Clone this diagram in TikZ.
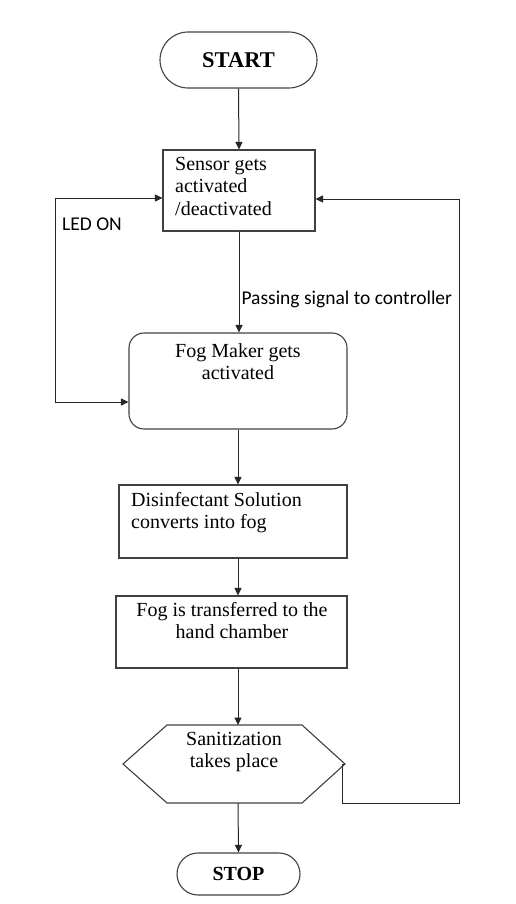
\documentclass[tikz,border=0pt]{standalone}
\usepackage{fontspec}
\setmainfont{Liberation Serif}
\newfontfamily\sansf{Carlito}
\usetikzlibrary{arrows.meta}
\tikzset{
  x=1pt, y=-1pt,
  line/.style={line width=1pt, draw=black!85},
  arr/.style={line, -{Triangle[length=7.5pt,width=7pt]}},
  boxline/.style={draw=black!75, line width=1.1pt},
  procbox/.style={boxline, rectangle, inner sep=0pt},
  term/.style={boxline, rectangle, inner sep=0pt, font=\fontsize{20}{24}\selectfont\bfseries},
  txt/.style={inner sep=0pt, font=\fontsize{20}{22.5}\selectfont},
  lbl/.style={inner sep=0pt, font=\sansf\fontsize{19.5}{22}\selectfont},
}
\begin{document}
\begin{tikzpicture}
\useasboundingbox (0,0) rectangle (516,904);
% terminals
\node[term, minimum width=157pt, minimum height=56pt, rounded corners=28pt,
      font=\fontsize{22.5}{26}\selectfont\bfseries] (start) at (238.5,60) {START};
\node[term, minimum width=123pt, minimum height=42pt, rounded corners=21pt] (stop) at (238.5,874) {STOP};
% sensor
\node[procbox, minimum width=152pt, minimum height=81pt] (sensor) at (239,190.5) {};
\node[txt, align=left, anchor=north west] (sensort) at (175,157) {Sensor gets\\activated\\/deactivated};
% fog maker
\node[procbox, minimum width=218pt, minimum height=96pt, rounded corners=15pt] (fog) at (238,381) {};
\node[txt, align=center, anchor=north] (fogt) at (238,343) {Fog Maker gets\\activated};
% disinfectant
\node[procbox, minimum width=228pt, minimum height=73pt] (dis) at (233,521.5) {};
\node[txt, align=left, anchor=north west] (dist) at (131,492) {Disinfectant Solution\\converts into fog};
% fog transfer
\node[procbox, minimum width=231pt, minimum height=72pt] (tr) at (231.5,632) {};
\node[txt, align=center, anchor=north] (trt) at (232,602) {Fog is transferred to the\\hand chamber};
% hexagon
\coordinate (htop) at (238,725);
\coordinate (hbot) at (238,803);
\coordinate (hright) at (345,764);
\draw[boxline] (167,725) -- (302,725) -- (hright) -- (302,803) -- (167,803) -- (123,764) -- cycle;
\node[txt, align=center] (san) at (234,752) {Sanitization\\takes place};
% connectors
\draw[arr] (start.south) -- (sensor.north);
\draw[arr] (sensor.south) -- node[lbl, right=2pt, pos=0.67] (pass) {Passing signal to controller} (sensor.south |- fog.north);
\draw[arr] (fog.south) -- (fog.south |- dis.north);
\draw[arr] (dis.south -| fog.south) -- (fog.south |- tr.north);
\draw[arr] (tr.south -| fog.south) -- (htop);
\draw[arr] (hbot) -- (stop.north);
% left loop
\coordinate (lt) at (55,198);
\coordinate (lb) at (55,402);
\draw[line, {Triangle[length=7.5pt,width=7pt]}-{Triangle[length=7.5pt,width=7pt]}]
  (sensor.west |- lt) -- (lt) -- (lb) -- (fog.west |- lb);
\node[lbl, anchor=west] (led) at (62,224) {LED ON};
% right loop
\coordinate (r1) at (342,764);
\coordinate (r2) at (342,803);
\coordinate (r3) at (459,803);
\coordinate (r4) at (459,199);
\draw[arr] (hright) -- (r1) -- (r2) -- (r3) -- (r4) -- (sensor.east |- r4);
\end{tikzpicture}
\end{document}
